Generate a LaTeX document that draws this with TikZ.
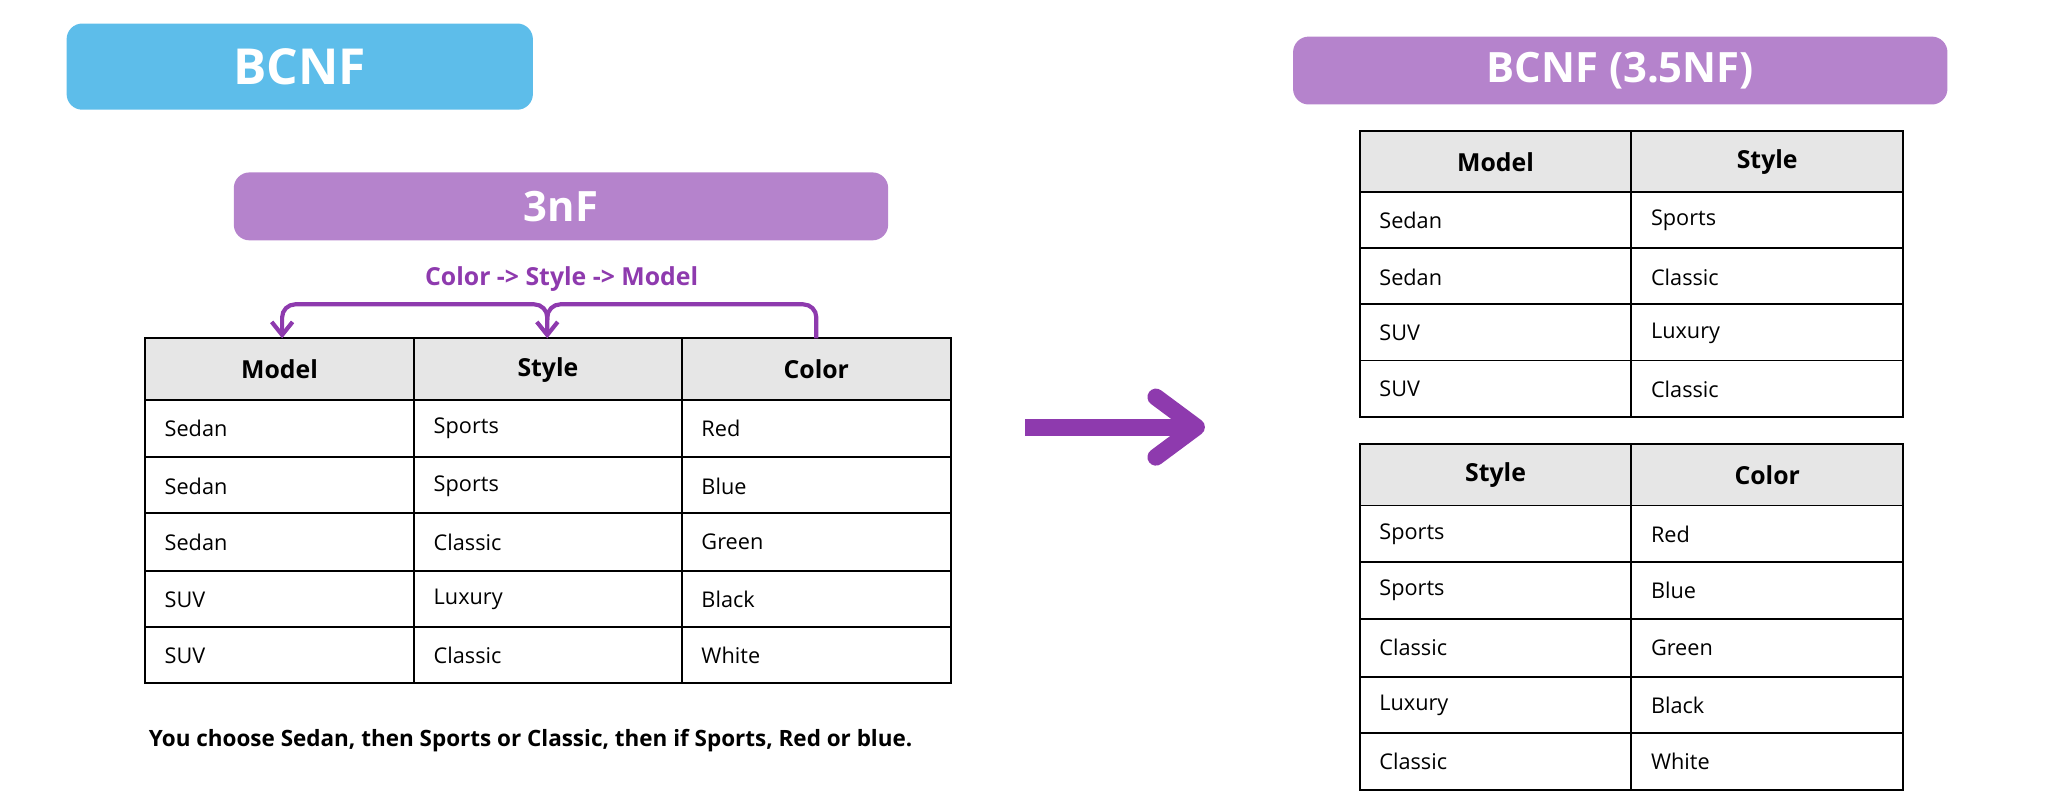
\documentclass[tikz,border=0pt]{standalone}
\usepackage{fontspec}
\setmainfont{Open Sans}
\usetikzlibrary{arrows.meta}
\begin{document}
\begin{tikzpicture}[x=0.5pt,y=-0.5pt,
  hdrbox/.style={fill=#1,rounded corners=6pt,draw=none},
  hdrtxt/.style={text=white,font=\bfseries\fontsize{19}{22}\selectfont},
  cell/.style={anchor=west,font=\fontsize{8.3}{10}\selectfont},
  hcell/.style={font=\bfseries\fontsize{9.5}{11}\selectfont},
  grid/.style={draw=black,line width=0.7pt},
  conn/.style={draw=purp,line width=1.6pt,rounded corners=5pt},
]
\definecolor{skyb}{HTML}{5DBDEA}
\definecolor{lilac}{HTML}{B583CC}
\definecolor{purp}{HTML}{8E3AAE}
\definecolor{hgray}{HTML}{E6E6E6}
\useasboundingbox (0,0) rectangle (1568,612);
% headers
\fill[hdrbox=skyb] (51,18) rectangle (408,84);
\node[hdrtxt] (bcnf) at (229.5,51) {BCNF};
\fill[hdrbox=lilac] (179,132) rectangle (680,184);
\node[hdrtxt,font=\bfseries\fontsize{16}{19}\selectfont] (tnf) at (429.5,158) {3nF};
\fill[hdrbox=lilac] (990,28) rectangle (1491,80);
\node[hdrtxt,font=\bfseries\fontsize{16}{19}\selectfont] (bcnf2) at (1240.5,54) {BCNF (3.5NF)};
\node[text=purp,font=\bfseries\fontsize{9.5}{11}\selectfont] (dep) at (430,214) {Color -> Style -> Model};
% left table
\fill[hgray] (111,259) rectangle (728,306);
\draw[grid] (111,259) rectangle (728,523);
\foreach \y in {306,350,393,437,480} \draw[grid] (111,\y) -- (728,\y);
\foreach \x in {317,522} \draw[grid] (\x,259) -- (\x,523);
\node[hcell] (lm) at (214,283) {Model};
\node[hcell] (ls) at (419.5,283) {Style};
\node[hcell] (lc) at (625,283) {Color};
\foreach \a/\b/\c [count=\i] in {Sedan/Sports/Red,Sedan/Sports/Blue,Sedan/Classic/Green,SUV/Luxury/Black,SUV/Classic/White}{
  \pgfmathsetmacro\yy{{328,372,415,459,502}[\i-1]}
  \node[cell] (la\i) at (119,\yy) {\a};
  \node[cell] (lb\i) at (325,\yy) {\b};
  \node[cell] (lcc\i) at (530,\yy) {\c};
}
% connectors
\coordinate (topc) at (625,259);
\coordinate (tops) at (419,259);
\coordinate (topm) at (216,259);
\draw[conn,-{Straight Barb[length=5pt,width=8pt]}] (topc) -- (625,233) -- (419,233) -- (tops);
\draw[conn,-{Straight Barb[length=5pt,width=8pt]}] (419,245) -- (419,233) -- (216,233) -- (topm);
\node[anchor=west,font=\bfseries\fontsize{8.6}{10}\selectfont] (note) at (107,567) {You choose Sedan, then Sports or Classic, then if Sports, Red or blue.};
% big arrow
\coordinate (a1) at (785,327);
\coordinate (a2) at (916,327);
\draw[draw=purp,line width=6.5pt,line cap=butt] (a1) -- (908,327);
\draw[draw=purp,line width=6.5pt,line cap=round,line join=round] (885,304) -- (a2) -- (885,350);
% right table 1
\fill[hgray] (1041,100) rectangle (1457,147);
\draw[grid] (1041,100) rectangle (1457,319);
\foreach \y in {147,190,233,276} \draw[grid] (1041,\y) -- (1457,\y);
\draw[grid] (1249,100) -- (1249,319);
\node[hcell] (r1m) at (1145,124) {Model};
\node[hcell] (r1s) at (1353,124) {Style};
\foreach \a/\b [count=\i] in {Sedan/Sports,Sedan/Classic,SUV/Luxury,SUV/Classic}{
  \pgfmathsetmacro\yy{{169,212,255,298}[\i-1]}
  \node[cell] (ra\i) at (1049,\yy) {\a};
  \node[cell] (rb\i) at (1257,\yy) {\b};
}
% right table 2
\fill[hgray] (1041,340) rectangle (1457,387);
\draw[grid] (1041,340) rectangle (1457,605);
\foreach \y in {387,430,474,518,561} \draw[grid] (1041,\y) -- (1457,\y);
\draw[grid] (1249,340) -- (1249,605);
\node[hcell] (r2s) at (1145,364) {Style};
\node[hcell] (r2c) at (1353,364) {Color};
\foreach \a/\b [count=\i] in {Sports/Red,Sports/Blue,Classic/Green,Luxury/Black,Classic/White}{
  \pgfmathsetmacro\yy{{409,452,496,540,583}[\i-1]}
  \node[cell] (sa\i) at (1049,\yy) {\a};
  \node[cell] (sb\i) at (1257,\yy) {\b};
}
\end{tikzpicture}
\end{document}
